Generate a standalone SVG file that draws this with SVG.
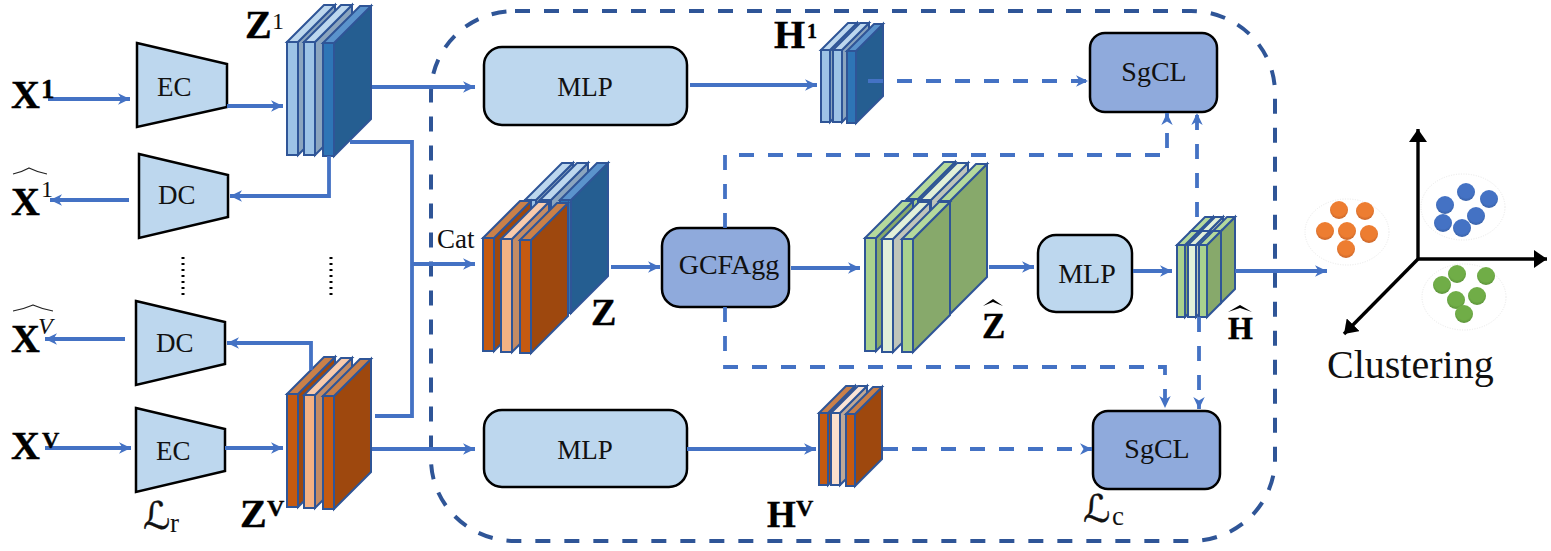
<svg xmlns="http://www.w3.org/2000/svg" xmlns:xlink="http://www.w3.org/1999/xlink" width="1551" height="551" viewBox="0 0 1551 551">
<style>
text{font-family:"Liberation Serif","Times New Roman",serif;fill:#111}
.b{font-weight:bold;font-size:40px;fill:#000;stroke:#000;stroke-width:.4}
.l{font-size:27px}
.sup{font-size:24px}
.sc{font-family:"DejaVu Sans","Noto Sans",sans-serif;font-style:italic;font-size:38px;stroke:#111;stroke-width:.4}
.trap{fill:#BDD7EE;stroke:#000;stroke-width:2.5}
.lt{fill:#BDD7EE;stroke:#000;stroke-width:2.5}
.dk{fill:#8FAADC;stroke:#000;stroke-width:2.5}
.c{fill:none;stroke:#4472C4;stroke-width:3.8}
.ar{marker-end:url(#h)}
.d{stroke-dasharray:15 14}
.hat{fill:none;stroke:#222;stroke-width:1.2}
.caret{fill:#000}
.front{fill:var(--f);stroke:#2F5597;stroke-width:2}
.top{fill:var(--t);stroke:#2F5597;stroke-width:2}
.side{fill:var(--s);stroke:#2F5597;stroke-width:2}
.bl{--f:#9DC3E6;--t:#BDD7EE;--s:#8BA5BF}
.bd{--f:#2E75B6;--t:#5B93CC;--s:#255E91}
.or{--f:#C55A11;--t:#C98049;--s:#9E480E}
.op{--f:#F4B183;--t:#F8CBAD;--s:#C48B64}
.ol{--f:#FBE0CE;--t:#FBE5D6;--s:#BFA895}
.gr{--f:#A9D18E;--t:#B5D99C;--s:#87A96B}
.gp{--f:#E2F0D9;--t:#E2F0D9;--s:#BFC5BA}
.ax{fill:none;stroke:#000;stroke-width:3.4;marker-end:url(#k)}
.halo{fill:#fff;stroke:#e8e8e8;stroke-width:1;stroke-dasharray:1 1.5}
</style>
<defs>
<marker id="h" markerUnits="userSpaceOnUse" markerWidth="13" markerHeight="13" refX="12" refY="6.5" orient="auto"><path d="M0,0.8 L12,6.5 L0,12.2 L3.5,6.5 z" fill="#4472C4"/></marker>
<marker id="k" markerUnits="userSpaceOnUse" markerWidth="15" markerHeight="18" refX="13" refY="9" orient="auto"><path d="M0,0 L13,9 L0,18 z" fill="#000"/></marker>
<g id="L"><polygon class="side" points="11,0 48,-37 48,76 11,113"/><polygon class="top" points="0,0 37,-37 48,-37 11,0"/><rect class="front" width="11" height="113"/></g>
<g id="M"><polygon class="side" points="9,0 36,-27 36,45 9,72"/><polygon class="top" points="0,0 27,-27 36,-27 9,0"/><rect class="front" width="9" height="72"/></g>
<g id="S"><polygon class="side" points="8,0 22,-14 22,58 8,72"/><polygon class="top" points="0,0 14,-14 22,-14 8,0"/><rect class="front" width="8" height="72"/></g>
<radialGradient id="go" cx=".5" cy=".4" r=".6"><stop offset=".7" stop-color="#ED7D31"/><stop offset="1" stop-color="#C8652A"/></radialGradient>
<radialGradient id="gb" cx=".5" cy=".4" r=".6"><stop offset=".7" stop-color="#4472C4"/><stop offset="1" stop-color="#3A62A8"/></radialGradient>
<radialGradient id="gg" cx=".5" cy=".4" r=".6"><stop offset=".7" stop-color="#70AD47"/><stop offset="1" stop-color="#5C933A"/></radialGradient>
</defs>

<rect id="frame" x="431" y="11" width="844" height="530" rx="84" ry="82" fill="none" stroke="#2F5597" stroke-width="4" stroke-dasharray="15 14"/>

<g id="Z1-stack"><use href="#L" x="287" y="42" class="bl"/><use href="#L" x="304" y="42" class="bl"/><use href="#L" x="323" y="43" class="bd"/></g>
<g id="ZV-stack"><use href="#L" x="287" y="394" class="or"/><use href="#L" x="304" y="395" class="op"/><use href="#L" x="323" y="396" class="or"/></g>
<g id="Z-stack"><use href="#L" x="525" y="200" class="bl"/><use href="#L" x="540" y="200" class="bl"/><use href="#L" x="560" y="200" class="bd"/><use href="#L" x="483" y="238" class="or"/><use href="#L" x="501" y="239" class="op"/><use href="#L" x="520" y="240" class="or"/></g>
<g id="Zhat-stack"><use href="#L" x="907" y="199" class="gr"/><use href="#L" x="920" y="200" class="gp"/><use href="#L" x="939" y="201" class="gr"/><use href="#L" x="865" y="238" class="gr"/><use href="#L" x="882" y="239" class="gp"/><use href="#L" x="902" y="239" class="gr"/></g>
<g id="H1-stack"><use href="#M" x="821" y="50" class="bl"/><use href="#M" x="833" y="50" class="bl"/><use href="#M" x="847" y="51" class="bd"/></g>
<g id="HV-stack"><use href="#M" x="819" y="413" class="or"/><use href="#M" x="831" y="413" class="ol"/><use href="#M" x="846" y="414" class="or"/></g>
<g id="Hhat-stack"><use href="#S" x="1191" y="231" class="gr"/><use href="#S" x="1201" y="231" class="gp"/><use href="#S" x="1213" y="231" class="gr"/><use href="#S" x="1177" y="245" class="gr"/><use href="#S" x="1188" y="245" class="gp"/><use href="#S" x="1199" y="245" class="gr"/></g>

<g id="EC1"><polygon class="trap" points="137,43 227,64 227,107 137,127"/><text class="l" x="157" y="96">EC</text></g>
<g id="DC1"><polygon class="trap" points="139,154 228,175 228,217 139,238"/><text class="l" x="158" y="204">DC</text></g>
<g id="DCV"><polygon class="trap" points="136,301 225,322 225,364 136,385"/><text class="l" x="156" y="352">DC</text></g>
<g id="ECV"><polygon class="trap" points="136,408 225,429 225,471 136,492"/><text class="l" x="156" y="460">EC</text></g>
<g id="MLP1"><rect class="lt" x="484" y="47" width="203" height="78" rx="18"/><text class="l" x="585" y="96" text-anchor="middle">MLP</text></g>
<g id="MLPV"><rect class="lt" x="484" y="410" width="203" height="77" rx="18"/><text class="l" x="585" y="459" text-anchor="middle">MLP</text></g>
<g id="MLPZ"><rect class="lt" x="1038" y="235" width="94" height="77" rx="18"/><text class="l" x="1087" y="283" text-anchor="middle" style="font-size:28px">MLP</text></g>
<g id="GCFAgg"><rect class="dk" x="662" y="228" width="127" height="79" rx="18"/><text class="l" x="729" y="274" text-anchor="middle" style="font-size:28px">GCFAgg</text></g>
<g id="SgCL1"><rect class="dk" x="1090" y="33" width="127" height="79" rx="15"/><text class="l" x="1154" y="81" text-anchor="middle" style="font-size:28px">SgCL</text></g>
<g id="SgCLV"><rect class="dk" x="1093" y="411" width="127" height="78" rx="15"/><text class="l" x="1157" y="458" text-anchor="middle" style="font-size:28px">SgCL</text></g>

<g id="connectors">
<path class="c ar" d="M48,99H130"/>
<path class="c ar" d="M227,106H283"/>
<path class="c ar" d="M329,156V196H230"/>
<path class="c ar" d="M129,200H50"/>
<path class="c ar" d="M125,339H45"/>
<path class="c ar" d="M311,370V343H227"/>
<path class="c ar" d="M45,448H131"/>
<path class="c ar" d="M225,448H283"/>
<path class="c ar" d="M372,87H475"/>
<path class="c" d="M350,142H412V416H375"/>
<path class="c ar" d="M412,264H475"/>
<path class="c ar" d="M372,449H475"/>
<path class="c ar" d="M690,85H817"/>
<path class="c ar" d="M687,449H816"/>
<path class="c ar" d="M611,267H660"/>
<path class="c ar" d="M791,268H860"/>
<path class="c ar" d="M989,267H1034"/>
<path class="c ar" d="M1133,271H1172"/>
<path class="c ar" d="M1235,271H1327"/>
<path class="c d ar" d="M868,81H1088"/>
<path class="c d ar" d="M883,449H1092"/>
<path class="c d ar" d="M725,228V155H1167V113"/>
<path class="c d ar" d="M725,307V367H1165V408"/>
<path class="c d ar" d="M1197,217V113"/>
<path class="c d ar" d="M1199,317V409"/>
<path d="M183,257V295M331,257V295" fill="none" stroke="#000" stroke-width="3" stroke-dasharray="2 4"/>
</g>

<g id="X1"><text class="b" x="11" y="108">X</text><text class="b" x="41" y="98" style="font-size:27px">1</text></g>
<g id="Xhat1"><path class="hat" d="M13,174Q22,172 29,168Q37,172 47,174"/><text class="b" x="11" y="215">X</text><text class="sup" x="41" y="197">1</text></g>
<g id="XhatV"><path class="hat" d="M13,311Q24,309 33,305Q42,309 53,311"/><text class="b" x="11" y="352">X</text><text class="sup" x="38" y="334" style="font-style:italic">V</text></g>
<g id="XV"><text class="b" x="11" y="459">X</text><text class="b" x="42" y="448" style="font-size:24px">V</text></g>
<g id="Z1"><text class="b" x="245" y="38">Z</text><text class="sup" x="272" y="29">1</text></g>
<g id="ZV"><text class="b" x="240" y="527">Z</text><text class="b" x="267" y="516" style="font-size:24px">V</text></g>
<g id="H1"><text class="b" x="774" y="48">H</text><text class="b" x="807" y="38" style="font-size:20px">1</text></g>
<g id="HV"><text class="b" x="767" y="527" style="font-size:37px">H</text><text class="b" x="796" y="516" style="font-size:24px">V</text></g>
<g id="Z"><text class="b" x="591" y="325" style="font-size:38px">Z</text></g>
<g id="Zhat"><path class="caret" d="M983,306L993,299L1003,306L993,302z"/><text class="b" x="982" y="338" style="font-size:35px">Z</text></g>
<g id="Hhat"><path class="caret" d="M1228,312L1240,305L1252,312L1240,308z"/><text class="b" x="1228" y="339" style="font-size:32px">H</text></g>
<text id="Cat" class="l" x="437" y="248">Cat</text>
<g id="Lr"><text class="sc" x="143" y="529">ℒ</text><text class="l" x="170" y="532">r</text></g>
<g id="Lc"><text class="sc" x="1083" y="522">ℒ</text><text class="l" x="1112" y="525">c</text></g>

<g id="clusters">
<ellipse class="halo" cx="1347" cy="232" rx="42" ry="33"/>
<ellipse class="halo" cx="1463" cy="207" rx="42" ry="33"/>
<ellipse class="halo" cx="1464" cy="297" rx="42" ry="33"/>
<g fill="url(#go)"><circle cx="1339" cy="210" r="9"/><circle cx="1365" cy="211" r="9"/><circle cx="1325" cy="231" r="9"/><circle cx="1347" cy="231" r="9"/><circle cx="1369" cy="234" r="9"/><circle cx="1346" cy="249" r="9"/></g>
<g fill="url(#gb)"><circle cx="1466" cy="192" r="9"/><circle cx="1489" cy="199" r="9"/><circle cx="1445" cy="205" r="9"/><circle cx="1476" cy="216" r="9"/><circle cx="1443" cy="223" r="9"/><circle cx="1462" cy="228" r="9"/></g>
<g fill="url(#gg)"><circle cx="1457" cy="274" r="9"/><circle cx="1486" cy="276" r="9"/><circle cx="1442" cy="285" r="9"/><circle cx="1477" cy="296" r="9"/><circle cx="1456" cy="300" r="9"/><circle cx="1464" cy="314" r="9"/></g>
<path class="ax" d="M1418,259V129"/>
<path class="ax" d="M1418,259H1547"/>
<path class="ax" d="M1418,259L1344,334"/>
<text x="1327" y="378" style="font-size:40px">Clustering</text>
</g>
</svg>
